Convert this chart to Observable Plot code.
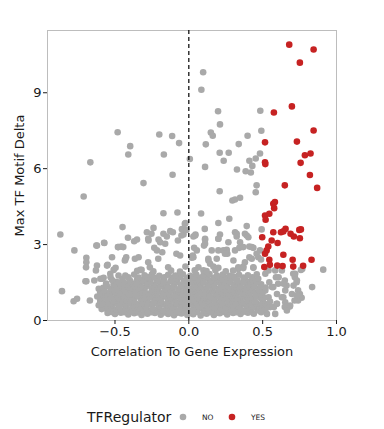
<!DOCTYPE html>
<html>
<head>
<meta charset="utf-8">
<script src="https://cdn.jsdelivr.net/npm/d3@7"></script>
<script src="https://cdn.jsdelivr.net/npm/@observablehq/plot@0.6"></script>
<style>
  html, body { margin: 0; padding: 0; background: white; }
  #chart svg { display: block; }
  #legend { display: block; }
</style>
</head>
<body>
<div id="chart"></div>
<svg id="legend" width="384" height="49"></svg>
<script>
// ---- data ----
const xTicks = [-0.5, 0.0, 0.5, 1.0];
const yTicks = [0, 3, 6, 9];
const categories = ["NO", "YES"];
const colors = ["#a9a9a9", "#c62222"];

// TFRegulator = NO  ([correlation, max motif delta]) — sparse part
const noPoints = [
  [-0.482,7.44],[-0.2,7.35],[-0.113,7.29],[-0.066,7.01],[-0.397,6.89],[-0.41,6.56],[-0.169,6.56],[-0.667,6.25],[0.007,6.38],[-0.11,5.76],
  [0.097,9.81],[0.085,9.12],[0.198,8.27],[0.484,8.29],[0.211,7.75],[0.491,7.5],[0.149,7.43],[0.162,7.3],[0.398,7.3],[0.115,6.96],
  [0.338,6.97],[0.209,6.63],[0.27,6.63],[0.482,6.6],[0.236,6.31],[0.453,6.4],[0.41,6.31],[0.43,6.11],[0.11,6.07],[0.326,5.97],
  [0.385,5.9],[0.42,5.85],[-0.712,4.9],[-0.307,5.43],[0.459,5.34],[0.453,5.07],[0.209,5.11],[0.295,4.74],[0.313,4.78],[0.347,4.85],
  [-0.172,4.24],[-0.077,4.27],[0.083,4.23],[-0.023,3.85],[0.2,3.85],[0.274,4.02],[0.493,3.6],[0.392,3.73],
  [-0.87,3.4],[-0.775,2.77],[-0.859,1.16],[-0.78,0.76],[-0.757,0.86],
  [-0.694,2.48],[-0.694,2.3],[-0.696,2.1],[-0.694,1.55],[-0.622,2.96],[-0.572,3.06],[-0.449,3.69],[-0.412,3.27],[-0.284,3.49],
  [-0.239,3.66],[-0.273,3.16],[-0.37,3.13],[-0.351,3.2],[-0.48,2.9],[-0.457,2.92],[-0.43,2.41],[-0.424,2.5],[-0.52,2.5],[-0.554,2.17],
  [-0.622,2.17],[-0.629,1.98],[-0.509,2.0],[-0.599,1.65],[-0.577,1.69],[-0.532,1.85],[-0.476,1.78],[-0.329,2.0],[-0.34,2.5],
  [-0.172,3.43],[-0.149,3.32],[-0.126,3.53],[-0.108,3.49],[-0.205,3.2],[-0.194,3.09],[-0.16,3.03],[-0.234,2.87],[-0.216,2.77],[-0.18,2.7],
  [-0.047,3.61],[-0.036,3.4],[-0.074,3.16],[-0.059,2.57],[-0.023,2.13],[0.031,3.32],[0.045,3.4],[0.036,2.87],[0.027,2.57],[0.02,2.48],
  [0.11,3.19],[0.103,2.96],[0.108,3.62],[0.211,3.4],[0.2,3.23],[0.2,2.77],[0.257,2.79],[0.261,2.64],[0.133,2.37],[0.144,2.24],
  [0.166,2.13],[0.2,2.08],[0.302,2.37],[0.347,3.09],[0.342,2.87],[0.313,3.49],[0.324,3.32],[0.392,3.36],[0.41,2.92],[0.437,2.87],
  [0.38,2.3],[0.41,2.5],[0.459,2.64],[0.482,2.77],[0.47,2.5],[0.489,2.41],[0.335,2.04],[0.369,2.13],[0.437,2.08],[0.768,2.04],
  [0.91,2.01],[0.835,1.32],[0.684,0.55],[0.707,1.85],[0.718,1.71],[0.73,1.51],[0.65,1.58],[0.662,1.38],[0.74,1.19],[0.752,1.05],
  [0.764,0.9],[0.74,0.79],[0.59,1.71],[0.605,1.45],[0.545,1.51],[0.572,1.32],[0.64,0.92],[0.595,0.66],[0.65,0.53],[0.576,0.53],
  [-0.67,0.79],[-0.61,1.25],[-0.6,0.66],[-0.57,0.53],[-0.55,0.4],[-0.5,0.33],[-0.55,2.2],[-0.64,1.58],[-0.7,1.55],[-0.586,1.65],
  [-0.53,1.71],[-0.496,2.08],[-0.478,2.9],[-0.626,2.96],[-0.574,3.07],[-0.444,2.9],[-0.253,3.43],[-0.275,3.23],[-0.027,3.82],[-0.016,3.58],[-0.05,3.36],
  [-0.433,2.37],[-0.365,2.44],[-0.32,2.0],[-0.275,2.3],[-0.264,2.1],[-0.14,2.1],[-0.207,2.44],[-0.084,2.64],
  [0.043,3.36],[0.11,3.23],[0.11,3.03],[0.2,3.23],[0.268,3.09],[0.324,3.43],[0.38,3.43],[0.403,3.29],[0.426,2.9],[0.369,2.9],
  [0.313,2.77],[0.234,2.77],[0.245,2.64],[0.155,2.77],[0.054,2.77],[0.031,2.5],[0.132,2.44],[0.189,2.44],[0.335,2.1],[0.369,2.07],
  [0.426,2.44],[0.437,2.1],[0.099,1.98],[0.065,2.1],
  [0.759,2.0],[0.72,1.85],[0.732,1.58],[0.709,1.38],[0.698,1.05],[0.732,0.99],[0.716,0.79],[0.686,0.59],
  [0.63,1.98],[0.608,1.71],[0.585,1.98],[0.54,1.98],[0.518,1.85],[0.642,1.45],[0.653,1.19],[0.63,0.92],[0.597,1.05],[0.563,1.32],
  [0.54,0.92],[0.518,1.19],[0.507,0.66],[0.551,0.53],[0.597,0.66],[0.653,0.72],[0.664,0.4],[0.585,0.26],[0.529,0.26]
];

// TFRegulator = NO — dense core near zero
const noCore = [
  [-0.55,0.3],[-0.5,0.26],[-0.46,0.31],[-0.41,0.24],[-0.37,0.29],[-0.32,0.22],[-0.28,0.27],[-0.23,0.3],[-0.19,0.23],[-0.14,0.26],
  [-0.1,0.21],[-0.05,0.28],[-0.01,0.22],[0.03,0.25],[0.08,0.2],[0.12,0.27],[0.17,0.22],[0.21,0.29],[0.26,0.24],[0.3,0.3],
  [0.35,0.26],[0.4,0.31],[0.44,0.27],[0.49,0.33],
  [-0.525,0.34],[-0.48,0.36],[-0.435,0.33],[-0.39,0.35],[-0.345,0.32],[-0.3,0.35],[-0.255,0.33],[-0.21,0.36],[-0.165,0.32],[-0.12,0.35],
  [-0.075,0.31],[-0.03,0.34],[0.015,0.31],[0.055,0.34],[0.1,0.31],[0.145,0.33],[0.19,0.31],[0.235,0.34],[0.28,0.36],[0.325,0.33],
  [0.37,0.35],[0.415,0.36],
  [-0.59,0.45],[-0.54,0.4],[-0.49,0.44],[-0.45,0.38],[-0.4,0.43],[-0.36,0.4],[-0.31,0.45],[-0.27,0.37],[-0.22,0.42],[-0.17,0.39],
  [-0.12,0.44],[-0.08,0.37],[-0.03,0.42],[0.01,0.38],[0.06,0.44],[0.1,0.4],[0.15,0.36],[0.19,0.43],[0.24,0.39],[0.28,0.45],
  [0.33,0.41],[0.37,0.37],[0.42,0.44],[0.47,0.4],[0.52,0.45],
  [-0.57,0.51],[-0.52,0.49],[-0.47,0.51],[-0.425,0.48],[-0.38,0.51],[-0.335,0.49],[-0.29,0.51],[-0.245,0.48],[-0.2,0.5],[-0.15,0.49],
  [-0.1,0.51],[-0.055,0.48],[-0.01,0.5],[0.035,0.49],[0.08,0.51],[0.125,0.48],[0.17,0.5],[0.215,0.49],[0.26,0.51],[0.305,0.48],
  [0.35,0.5],[0.395,0.49],[0.44,0.51],[0.49,0.5],
  [-0.61,0.6],[-0.56,0.56],[-0.52,0.61],[-0.47,0.55],[-0.43,0.6],[-0.38,0.57],[-0.34,0.62],[-0.29,0.55],[-0.25,0.6],[-0.2,0.56],
  [-0.15,0.61],[-0.11,0.54],[-0.06,0.59],[-0.02,0.56],[0.03,0.62],[0.07,0.55],[0.12,0.6],[0.16,0.57],[0.21,0.62],[0.25,0.55],
  [0.3,0.59],[0.34,0.56],[0.39,0.61],[0.44,0.57],[0.48,0.6],[0.53,0.62],
  [-0.585,0.68],[-0.535,0.66],[-0.49,0.69],[-0.445,0.66],[-0.4,0.68],[-0.355,0.65],[-0.31,0.69],[-0.265,0.66],[-0.22,0.68],[-0.175,0.65],
  [-0.13,0.69],[-0.085,0.66],[-0.04,0.68],[0.005,0.65],[0.05,0.69],[0.095,0.66],[0.14,0.68],[0.185,0.65],[0.23,0.69],[0.275,0.66],
  [0.32,0.68],[0.365,0.65],[0.41,0.69],[0.46,0.66],[0.51,0.68],
  [-0.6,0.78],[-0.55,0.73],[-0.51,0.77],[-0.46,0.72],[-0.42,0.78],[-0.37,0.74],[-0.32,0.79],[-0.28,0.72],[-0.23,0.76],[-0.19,0.73],
  [-0.14,0.79],[-0.09,0.72],[-0.05,0.77],[0.0,0.74],[0.04,0.79],[0.09,0.72],[0.13,0.77],[0.18,0.73],[0.22,0.79],[0.27,0.74],
  [0.31,0.77],[0.36,0.72],[0.4,0.78],[0.45,0.74],[0.5,0.79],[0.55,0.75],
  [-0.595,0.86],[-0.55,0.84],[-0.505,0.87],[-0.46,0.83],[-0.415,0.86],[-0.37,0.84],[-0.325,0.87],[-0.28,0.83],[-0.235,0.85],[-0.19,0.83],
  [-0.145,0.87],[-0.1,0.84],[-0.055,0.86],[-0.01,0.83],[0.035,0.87],[0.08,0.84],[0.125,0.86],[0.17,0.83],[0.215,0.87],[0.26,0.84],
  [0.305,0.86],[0.35,0.83],[0.395,0.87],[0.44,0.84],[0.49,0.86],
  [-0.62,0.95],[-0.57,0.9],[-0.53,0.94],[-0.48,0.89],[-0.44,0.95],[-0.39,0.91],[-0.35,0.96],[-0.3,0.89],[-0.26,0.93],[-0.21,0.9],
  [-0.16,0.96],[-0.12,0.89],[-0.07,0.94],[-0.03,0.91],[0.02,0.96],[0.06,0.89],[0.11,0.93],[0.15,0.9],[0.2,0.95],[0.24,0.91],
  [0.29,0.96],[0.33,0.89],[0.38,0.94],[0.42,0.9],[0.47,0.95],[0.51,0.91],
  [-0.58,1.02],[-0.535,1.0],[-0.49,1.03],[-0.445,0.99],[-0.4,1.02],[-0.355,1.0],[-0.31,1.03],[-0.265,0.99],[-0.22,1.02],[-0.175,1.0],
  [-0.13,1.03],[-0.085,0.99],[-0.04,1.02],[0.005,1.0],[0.05,1.03],[0.095,0.99],[0.14,1.02],[0.185,1.0],[0.23,1.03],[0.275,0.99],
  [0.32,1.02],[0.365,1.0],[0.41,1.03],[0.455,0.99],[0.49,1.02],
  [-0.6,1.12],[-0.55,1.07],[-0.5,1.12],[-0.46,1.06],[-0.41,1.11],[-0.37,1.08],[-0.32,1.13],[-0.27,1.06],[-0.23,1.1],[-0.18,1.07],
  [-0.14,1.13],[-0.09,1.06],[-0.04,1.11],[0.0,1.08],[0.05,1.13],[0.09,1.06],[0.14,1.1],[0.18,1.07],[0.23,1.12],[0.27,1.06],
  [0.32,1.11],[0.36,1.08],[0.41,1.13],[0.45,1.07],[0.5,1.11],
  [-0.575,1.19],[-0.525,1.17],[-0.48,1.2],[-0.435,1.17],[-0.39,1.19],[-0.345,1.16],[-0.3,1.2],[-0.25,1.17],[-0.205,1.19],[-0.16,1.16],
  [-0.115,1.2],[-0.07,1.17],[-0.02,1.19],[0.025,1.16],[0.07,1.2],[0.115,1.17],[0.16,1.19],[0.205,1.16],[0.25,1.2],[0.295,1.17],
  [0.34,1.19],[0.385,1.16],[0.43,1.2],[0.475,1.18],
  [-0.58,1.29],[-0.53,1.25],[-0.48,1.3],[-0.44,1.24],[-0.39,1.28],[-0.35,1.25],[-0.3,1.31],[-0.25,1.24],[-0.21,1.28],[-0.16,1.25],
  [-0.11,1.3],[-0.07,1.23],[-0.02,1.28],[0.02,1.25],[0.07,1.3],[0.11,1.24],[0.16,1.29],[0.2,1.25],[0.25,1.3],[0.29,1.24],
  [0.34,1.28],[0.38,1.25],[0.43,1.3],[0.47,1.26],[0.52,1.3],
  [-0.555,1.36],[-0.505,1.34],[-0.46,1.37],[-0.415,1.34],[-0.37,1.36],[-0.325,1.33],[-0.28,1.37],[-0.235,1.34],[-0.19,1.36],[-0.145,1.33],
  [-0.1,1.37],[-0.055,1.34],[-0.01,1.36],[0.035,1.33],[0.08,1.37],[0.125,1.34],[0.17,1.36],[0.215,1.33],[0.26,1.37],[0.305,1.34],
  [0.35,1.36],[0.395,1.33],[0.44,1.37],[0.485,1.35],
  [-0.56,1.46],[-0.51,1.42],[-0.47,1.47],[-0.42,1.41],[-0.38,1.45],[-0.33,1.42],[-0.28,1.48],[-0.24,1.41],[-0.19,1.45],[-0.15,1.42],
  [-0.1,1.47],[-0.05,1.4],[-0.01,1.45],[0.04,1.42],[0.08,1.47],[0.13,1.41],[0.17,1.46],[0.22,1.42],[0.26,1.47],[0.31,1.41],
  [0.35,1.45],[0.4,1.42],[0.44,1.47],[0.49,1.43],
  [-0.49,1.53],[-0.44,1.51],[-0.395,1.54],[-0.35,1.52],[-0.305,1.55],[-0.26,1.51],[-0.215,1.53],[-0.17,1.51],[-0.125,1.54],[-0.08,1.52],
  [-0.035,1.55],[0.01,1.51],[0.055,1.53],[0.1,1.51],[0.145,1.54],[0.19,1.52],[0.235,1.55],[0.28,1.51],[0.325,1.53],[0.37,1.51],
  [0.415,1.54],[0.46,1.52],
  [-0.52,1.6],[-0.45,1.64],[-0.4,1.59],[-0.35,1.63],[-0.31,1.6],[-0.26,1.65],[-0.21,1.58],[-0.17,1.62],[-0.12,1.59],[-0.08,1.64],
  [-0.03,1.58],[0.02,1.63],[0.06,1.6],[0.11,1.65],[0.15,1.58],[0.2,1.62],[0.24,1.59],[0.29,1.64],[0.33,1.58],[0.38,1.62],
  [0.43,1.6],[0.47,1.65],
  [-0.41,1.71],[-0.34,1.7],[-0.28,1.72],[-0.23,1.69],[-0.165,1.71],[-0.11,1.7],[-0.06,1.72],[-0.01,1.69],[0.035,1.71],[0.08,1.7],
  [0.125,1.72],[0.17,1.69],[0.215,1.71],[0.26,1.7],[0.31,1.72],[0.37,1.7],[0.43,1.71],
  [-0.43,1.78],[-0.37,1.82],[-0.3,1.79],[-0.25,1.83],[-0.2,1.77],[-0.14,1.81],[-0.09,1.78],[-0.04,1.83],[0.01,1.77],[0.05,1.82],
  [0.1,1.79],[0.14,1.84],[0.19,1.78],[0.23,1.82],[0.28,1.77],[0.34,1.81],[0.4,1.79],[0.46,1.83],
  [-0.35,1.96],[-0.24,1.94],[-0.12,1.97],[-0.06,1.93],[0.04,1.98],[0.12,1.95],[0.18,1.99],[0.25,1.94],[0.3,1.97]
];

// TFRegulator = YES
const yesPoints = [
  [0.68,10.9],[0.845,10.71],[0.752,10.19],[0.698,8.46],[0.576,8.22],[0.845,7.51],[0.516,7.04],[0.732,7.07],[0.786,6.53],[0.824,6.6],
  [0.516,6.25],[0.518,6.18],[0.757,6.23],[0.82,5.75],[0.65,5.34],[0.869,5.24],[0.572,4.61],[0.583,4.68],[0.578,4.44],[0.545,4.22],
  [0.516,4.15],[0.52,3.98],[0.497,3.29],[0.572,3.49],[0.561,3.16],[0.624,3.49],[0.655,3.62],[0.64,3.52],[0.689,3.43],[0.711,3.32],
  [0.748,3.58],[0.759,3.6],[0.752,3.25],[0.538,2.92],[0.601,3.06],[0.527,2.77],[0.516,2.64],[0.64,2.6],[0.545,2.4],[0.703,2.4],
  [0.831,2.4],[0.511,2.11],[0.549,2.2],[0.599,2.17],[0.635,2.15],[0.707,2.13],[0.774,2.16]
];

const data = [
  ...noPoints.map(([x, y]) => ({x, y, reg: categories[0]})),
  ...noCore.map(([x, y]) => ({x, y, reg: categories[0]})),
  ...yesPoints.map(([x, y]) => ({x, y, reg: categories[1]}))
];

const chart = Plot.plot({
  width: 384,
  height: 380,
  marginLeft: 47,
  marginRight: 48,
  marginTop: 30,
  marginBottom: 60,
  style: {fontFamily: "DejaVu Sans, sans-serif", fontSize: "12px", color: "#1a1a1a", background: "white"},
  x: {domain: [-0.957, 1.0]},
  y: {domain: [0, 11.46]},
  color: {domain: categories, range: colors},
  marks: [
    Plot.frame({stroke: "#bdbdbd", strokeWidth: 1}),
    Plot.dot(data, {x: "x", y: "y", r: 3.3, fill: "reg", stroke: null}),
    Plot.ruleX([0], {stroke: "black", strokeWidth: 1.2, strokeDasharray: "4,3"}),
    Plot.axisX({ticks: xTicks, tickFormat: d3.format(".1f"), tickSize: 4, tickPadding: 2, fontSize: 13,
      label: "Correlation To Gene Expression", labelAnchor: "center", labelArrow: "none", labelOffset: 35}),
    Plot.axisY({ticks: yTicks, tickSize: 4, tickPadding: 2, fontSize: 13,
      label: "Max TF Motif Delta", labelAnchor: "center", labelArrow: "none", labelOffset: 33})
  ]
});
document.getElementById("chart").appendChild(chart);

// legend below the chart
const lg = d3.select("#legend");
lg.append("text").attr("x", 87).attr("y", 37).attr("dy", "0.35em")
  .attr("font-family", "DejaVu Sans, sans-serif").attr("font-size", 14).attr("fill", "#1a1a1a").text("TFRegulator");
const lx = [183, 232];
categories.forEach((c, i) => {
  lg.append("circle").attr("cx", lx[i]).attr("cy", 37).attr("r", 3.3).attr("fill", colors[i]);
  lg.append("text").attr("x", lx[i] + 19).attr("y", 37).attr("dy", "0.35em")
    .attr("font-family", "DejaVu Sans, sans-serif").attr("font-size", 7.5).attr("fill", "#1a1a1a").text(c);
});
</script>
</body>
</html>
